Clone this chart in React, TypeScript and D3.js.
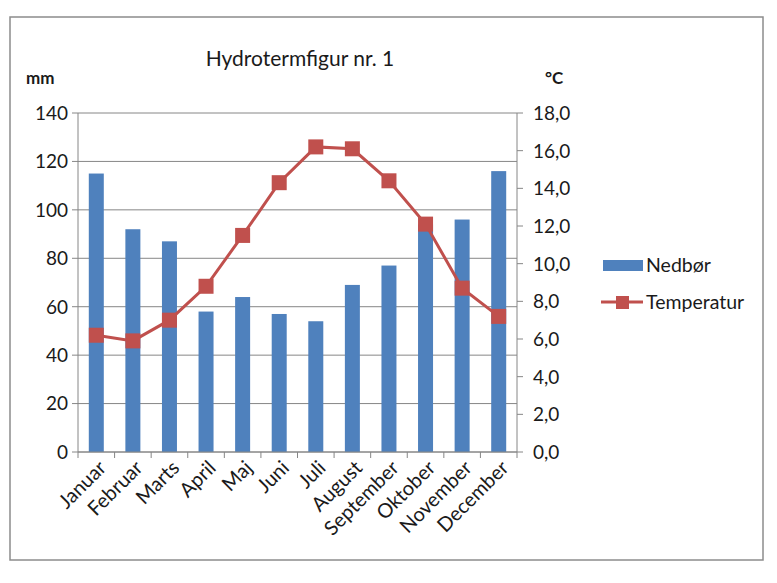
import React, { useRef, useEffect } from 'react'
import * as d3 from 'd3'

const months = [
	'Januar',
	'Februar',
	'Marts',
	'April',
	'Maj',
	'Juni',
	'Juli',
	'August',
	'September',
	'Oktober',
	'November',
	'December',
]
const nedboer = [115, 92, 87, 58, 64, 57, 54, 69, 77, 94, 96, 116]
const temperatur = [6.2, 5.9, 7.0, 8.8, 11.5, 14.3, 16.2, 16.1, 14.4, 12.1, 8.7, 7.2]
const mmTicks = [0, 20, 40, 60, 80, 100, 120, 140]
const tempTicks = [0, 2, 4, 6, 8, 10, 12, 14, 16, 18]

const FONT = 'Lato, "Open Sans", sans-serif'
const BAR = '#4f81bd'
const LINE = '#c0504d'
const GRID = '#868686'
const TEXT = '#1a1a1a'

const App = () => {
	const svgRef = useRef<SVGSVGElement | null>(null)

	const width = 777,
		height = 583
	const margin = { top: 113, right: 260, bottom: 131, left: 78 }
	const plotW = width - margin.left - margin.right
	const plotH = height - margin.top - margin.bottom

	useEffect(() => {
		const svg = d3.select(svgRef.current)
		svg.selectAll('*').remove()

		// outer chart frame
		svg
			.append('rect')
			.attr('x', 10)
			.attr('y', 17)
			.attr('width', 753)
			.attr('height', 543)
			.attr('fill', '#fff')
			.attr('stroke', '#8c8c8c')
			.attr('stroke-width', 1.5)

		const x = d3.scaleBand().domain(months).range([0, plotW])
		const yL = d3.scaleLinear().domain([0, 140]).range([plotH, 0])
		const yR = d3.scaleLinear().domain([0, 18]).range([plotH, 0])
		const cx = (i: number) => x(months[i])! + x.bandwidth() / 2

		const g = svg.append('g').attr('transform', `translate(${margin.left},${margin.top})`)

		// gridlines
		g.selectAll('line.grid')
			.data(mmTicks)
			.enter()
			.append('line')
			.attr('x1', 0)
			.attr('x2', plotW)
			.attr('y1', (d) => yL(d))
			.attr('y2', (d) => yL(d))
			.attr('stroke', GRID)
			.attr('stroke-width', 1)

		// bars
		g.selectAll('rect.bar')
			.data(nedboer)
			.enter()
			.append('rect')
			.attr('x', (d, i) => cx(i) - 7.5)
			.attr('y', (d) => yL(d))
			.attr('width', 15)
			.attr('height', (d) => plotH - yL(d))
			.attr('fill', BAR)

		// axes
		const leftAxis = g.append('g')
		leftAxis.append('line').attr('x1', 0).attr('x2', 0).attr('y1', 0).attr('y2', plotH).attr('stroke', GRID)
		mmTicks.forEach((t) => {
			leftAxis.append('line').attr('x1', -6).attr('x2', 0).attr('y1', yL(t)).attr('y2', yL(t)).attr('stroke', GRID)
			leftAxis
				.append('text')
				.attr('x', -10)
				.attr('y', yL(t))
				.attr('dy', '0.36em')
				.attr('text-anchor', 'end')
				.attr('font-size', 19)
				.attr('fill', TEXT)
				.text(t)
		})

		const rightAxis = g.append('g').attr('transform', `translate(${plotW},0)`)
		rightAxis.append('line').attr('x1', 0).attr('x2', 0).attr('y1', 0).attr('y2', plotH).attr('stroke', GRID)
		tempTicks.forEach((t) => {
			rightAxis.append('line').attr('x1', 0).attr('x2', 6).attr('y1', yR(t)).attr('y2', yR(t)).attr('stroke', GRID)
			rightAxis
				.append('text')
				.attr('x', 16)
				.attr('y', yR(t))
				.attr('dy', '0.36em')
				.attr('font-size', 19)
				.attr('fill', TEXT)
				.text(d3.format('.1f')(t).replace('.', ','))
		})

		const bottom = g.append('g').attr('transform', `translate(0,${plotH})`)
		bottom.append('line').attr('x1', 0).attr('x2', plotW).attr('stroke', GRID)
		d3.range(months.length + 1).forEach((i) => {
			const tx = i * x.step()
			bottom.append('line').attr('x1', tx).attr('x2', tx).attr('y1', 0).attr('y2', 6).attr('stroke', GRID)
		})
		months.forEach((m, i) => {
			bottom
				.append('text')
				.attr('transform', `translate(${cx(i) + 6},${12}) rotate(-45)`)
				.attr('text-anchor', 'end')
				.attr('dy', '0.36em')
				.attr('font-size', 20)
				.attr('fill', TEXT)
				.text(m)
		})

		// temperature line
		const line = d3
			.line<number>()
			.x((d, i) => cx(i))
			.y((d) => yR(d))
		g.append('path')
			.datum(temperatur)
			.attr('d', line)
			.attr('fill', 'none')
			.attr('stroke', LINE)
			.attr('stroke-width', 3)
		g.selectAll('rect.marker')
			.data(temperatur)
			.enter()
			.append('rect')
			.attr('x', (d, i) => cx(i) - 7.5)
			.attr('y', (d) => yR(d) - 7.5)
			.attr('width', 15)
			.attr('height', 15)
			.attr('fill', LINE)

		// titles
		svg
			.append('text')
			.attr('x', 300)
			.attr('y', 66)
			.attr('text-anchor', 'middle')
			.attr('font-size', 21)
			.attr('fill', TEXT)
			.text('Hydrotermfigur nr. 1')
		svg
			.append('text')
			.attr('x', 26)
			.attr('y', 84)
			.attr('font-size', 17)
			.attr('font-weight', 'bold')
			.attr('fill', TEXT)
			.text('mm')
		svg
			.append('text')
			.attr('x', 545)
			.attr('y', 84)
			.attr('font-size', 17)
			.attr('font-weight', 'bold')
			.attr('fill', TEXT)
			.text('°C')

		// legend
		const leg = svg.append('g').attr('transform', 'translate(603,265)')
		leg.append('rect').attr('x', 0).attr('y', -5).attr('width', 40).attr('height', 11).attr('fill', BAR)
		leg.append('text').attr('x', 43).attr('y', 0).attr('dy', '0.36em').attr('font-size', 19.5).attr('fill', TEXT).text('Nedbør')
		leg.append('line').attr('x1', -2).attr('x2', 40).attr('y1', 37).attr('y2', 37).attr('stroke', LINE).attr('stroke-width', 3)
		leg.append('rect').attr('x', 13).attr('y', 31).attr('width', 13).attr('height', 13).attr('fill', LINE)
		leg.append('text').attr('x', 43).attr('y', 37).attr('dy', '0.36em').attr('font-size', 19.5).attr('fill', TEXT).text('Temperatur')
	}, [plotW, plotH, margin.left, margin.top])

	return (
		<div style={{ position: 'absolute', left: 0, top: 0 }}>
			<svg ref={svgRef} width={width} height={height} style={{ display: 'block', fontFamily: FONT }}></svg>
		</div>
	)
}

export default App
